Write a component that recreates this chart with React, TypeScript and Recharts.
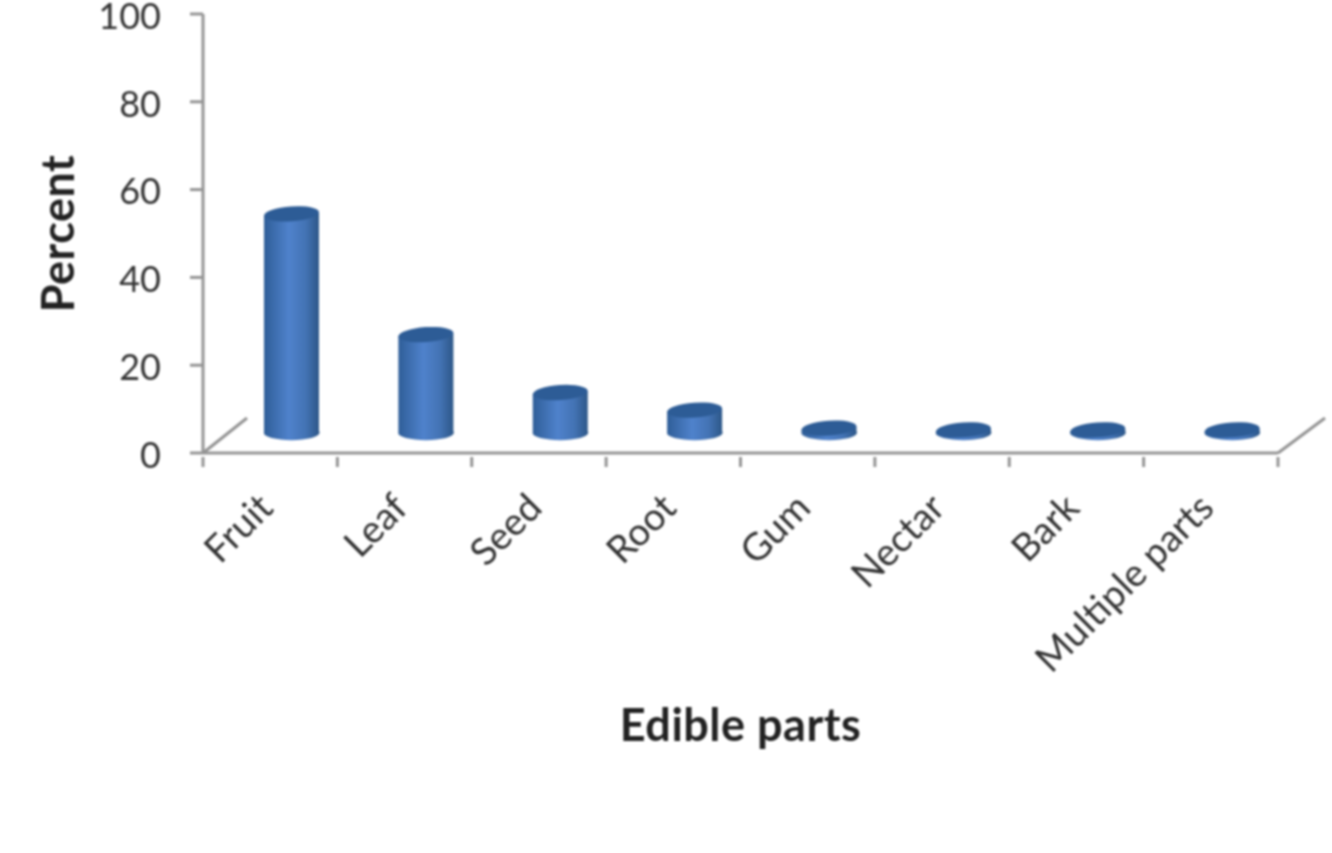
import { BarChart, Bar, XAxis, YAxis, Customized } from "recharts";

const parts = ["Fruit", "Leaf", "Seed", "Root", "Gum", "Nectar", "Bark", "Multiple parts"];
const percent = [49.8, 22.3, 9.1, 5.1, 1, 0.6, 0.6, 0.6];
const yTicks = [0, 20, 40, 60, 80, 100];

const data = parts.map((name, i) => ({ name, percent: percent[i] }));

const FONT = "Lato, 'Open Sans', sans-serif";
const TEXT = "#333333";
const AXIS = "#949494";
const BAND = 134.375;

// cylinders stand on the floor of the old 3D chart, so up and to the right of the axis
function Cylinder(props: any) {
  const { x, y, width, height } = props;
  const cx = x + width / 2 + 21;
  const rx = width / 2;
  const ry = 7.5;
  const top = y - 19;
  const base = y + height - 19;
  return (
    <g>
      <path
        d={`M${cx - rx},${top} L${cx - rx},${base} A${rx},${ry} 0 0 0 ${cx + rx},${base - 3} L${cx + rx},${top - 3} Z`}
        fill="url(#cyl)"
      />
      <ellipse cx={cx} cy={top - 1.5} rx={rx} ry={ry} fill="#2d5c96" transform={`rotate(-4 ${cx} ${top - 1.5})`} />
    </g>
  );
}

// tick marks sit between the categories, the label stays under the category
function PartTick({ x, y, payload, index }: any) {
  const last = index === parts.length - 1;
  return (
    <g>
      <line x1={x - BAND / 2} y1={y - 8} x2={x - BAND / 2} y2={y + 2} stroke={AXIS} strokeWidth={3} />
      {last && <line x1={x + BAND / 2} y1={y - 8} x2={x + BAND / 2} y2={y + 2} stroke={AXIS} strokeWidth={3} />}
      <text
        x={x + 5}
        y={y + 45}
        textAnchor="end"
        fontFamily={FONT}
        fontSize={38}
        fill={TEXT}
        transform={`rotate(-45 ${x + 5} ${y + 45})`}
      >
        {payload.value}
      </text>
    </g>
  );
}

function FloorEdges() {
  return (
    <g stroke={AXIS} strokeWidth={3}>
      <line x1={203} y1={453} x2={247} y2={418} />
      <line x1={1278} y1={453} x2={1325} y2={418} />
    </g>
  );
}

export default function App() {
  return (
    <div style={{ position: "absolute", left: 0, top: 0, background: "#fff", filter: "blur(0.8px)" }}>
      <BarChart width={1332} height={853} data={data} margin={{ top: 14, right: 54, bottom: 0, left: 0 }}>
        <defs>
          <linearGradient id="cyl" x1="0" y1="0" x2="1" y2="0">
            <stop offset="0%" stopColor="#2f5e98" />
            <stop offset="45%" stopColor="#4f82cc" />
            <stop offset="75%" stopColor="#4373b4" />
            <stop offset="100%" stopColor="#2c5686" />
          </linearGradient>
        </defs>
        <XAxis
          dataKey="name"
          height={400}
          interval={0}
          tick={<PartTick />}
          tickLine={false}
          tickSize={10}
          stroke={AXIS}
          strokeWidth={3}
          label={{
            value: "Edible parts",
            position: "insideBottom",
            offset: 112,
            fontFamily: FONT,
            fontSize: 45,
            fontWeight: 700,
            letterSpacing: 0.5,
            fill: "#222",
          }}
        />
        <YAxis
          width={203}
          domain={[0, 100]}
          ticks={yTicks}
          interval={0}
          tick={{ fontFamily: FONT, fontSize: 36, fill: TEXT, dy: 2 }}
          tickSize={13}
          tickMargin={29}
          stroke={AXIS}
          strokeWidth={3}
          tickLine={{ stroke: AXIS, strokeWidth: 3 }}
          label={{
            value: "Percent",
            angle: -90,
            position: "insideLeft",
            offset: 58,
            textAnchor: "middle",
            fontFamily: FONT,
            fontSize: 45,
            fontWeight: 700,
            letterSpacing: 0.5,
            fill: "#222",
          }}
        />
        <Bar dataKey="percent" barSize={55} shape={Cylinder} isAnimationActive={false} />
        <Customized component={FloorEdges} />
      </BarChart>
    </div>
  );
}
